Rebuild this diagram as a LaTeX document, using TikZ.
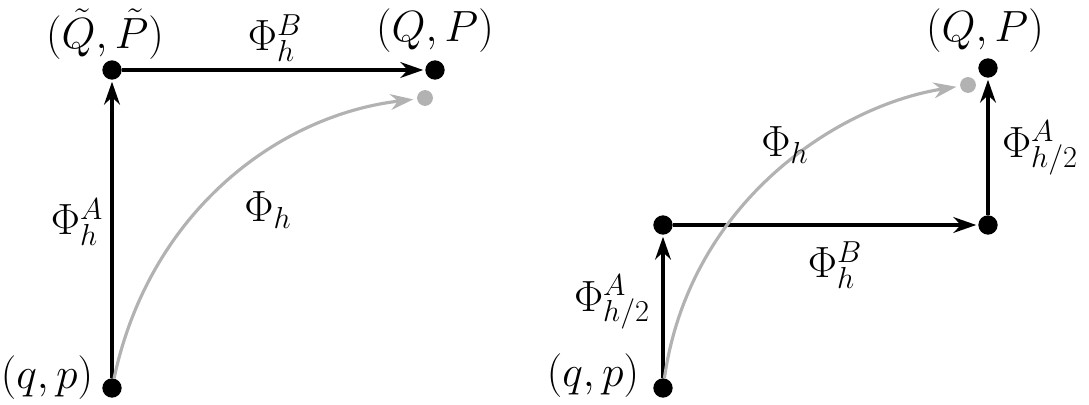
\documentclass[tikz,border=0pt]{standalone}
\usetikzlibrary{arrows.meta}
\begin{document}
\begin{tikzpicture}[x=0.02cm,y=-0.02cm,
  dot/.style={circle,fill=black,inner sep=0pt,minimum size=11pt},
  gdot/.style={circle,fill=black!30,inner sep=0pt,minimum size=9pt},
  blk/.style={line width=1.8pt,-{Stealth[length=13pt,width=9pt]},shorten >=1pt},
  gry/.style={line width=1.8pt,black!30,-{Stealth[length=13pt,width=9pt]},shorten >=2pt},
  lab/.style={font=\fontsize{23}{27}\selectfont,inner sep=1pt}]
\useasboundingbox (0,0) rectangle (1089,405);
% left
\node[dot] (a) at (112,388) {};
\node[dot] (b) at (112,70) {};
\node[dot] (c) at (435,70) {};
\node[gdot] (g) at (425,98) {};
\draw[blk] (a) -- (b);
\draw[blk] (b) -- (c);
\draw[gry] (a) .. controls (150,210) and (280,115) .. (g);
\node[lab] at (105,34) {$(\tilde Q,\tilde P)$};
\node[lab] at (275,38) {$\Phi_h^B$};
\node[lab] at (435,31) {$(Q,P)$};
\node[lab] at (77,222) {$\Phi_h^A$};
\node[lab] at (268,210) {$\Phi_h$};
\node[lab] at (47,378) {$(q,p)$};
% right
\node[dot] (d) at (663,388) {};
\node[dot] (e) at (663,225) {};
\node[dot] (f) at (988,225) {};
\node[dot] (h) at (988,68) {};
\node[gdot] (k) at (968,85) {};
\draw[blk] (d) -- (e);
\draw[blk] (e) -- (f);
\draw[blk] (f) -- (h);
\draw[gry] (d) .. controls (690,200) and (840,105) .. (k);
\node[lab] at (985,31) {$(Q,P)$};
\node[lab] at (785,145) {$\Phi_h$};
\node[lab] at (1040,148) {$\Phi_{h/2}^A$};
\node[lab] at (835,265) {$\Phi_h^B$};
\node[lab] at (612,302) {$\Phi_{h/2}^A$};
\node[lab] at (593,376) {$(q,p)$};
\end{tikzpicture}
\end{document}
